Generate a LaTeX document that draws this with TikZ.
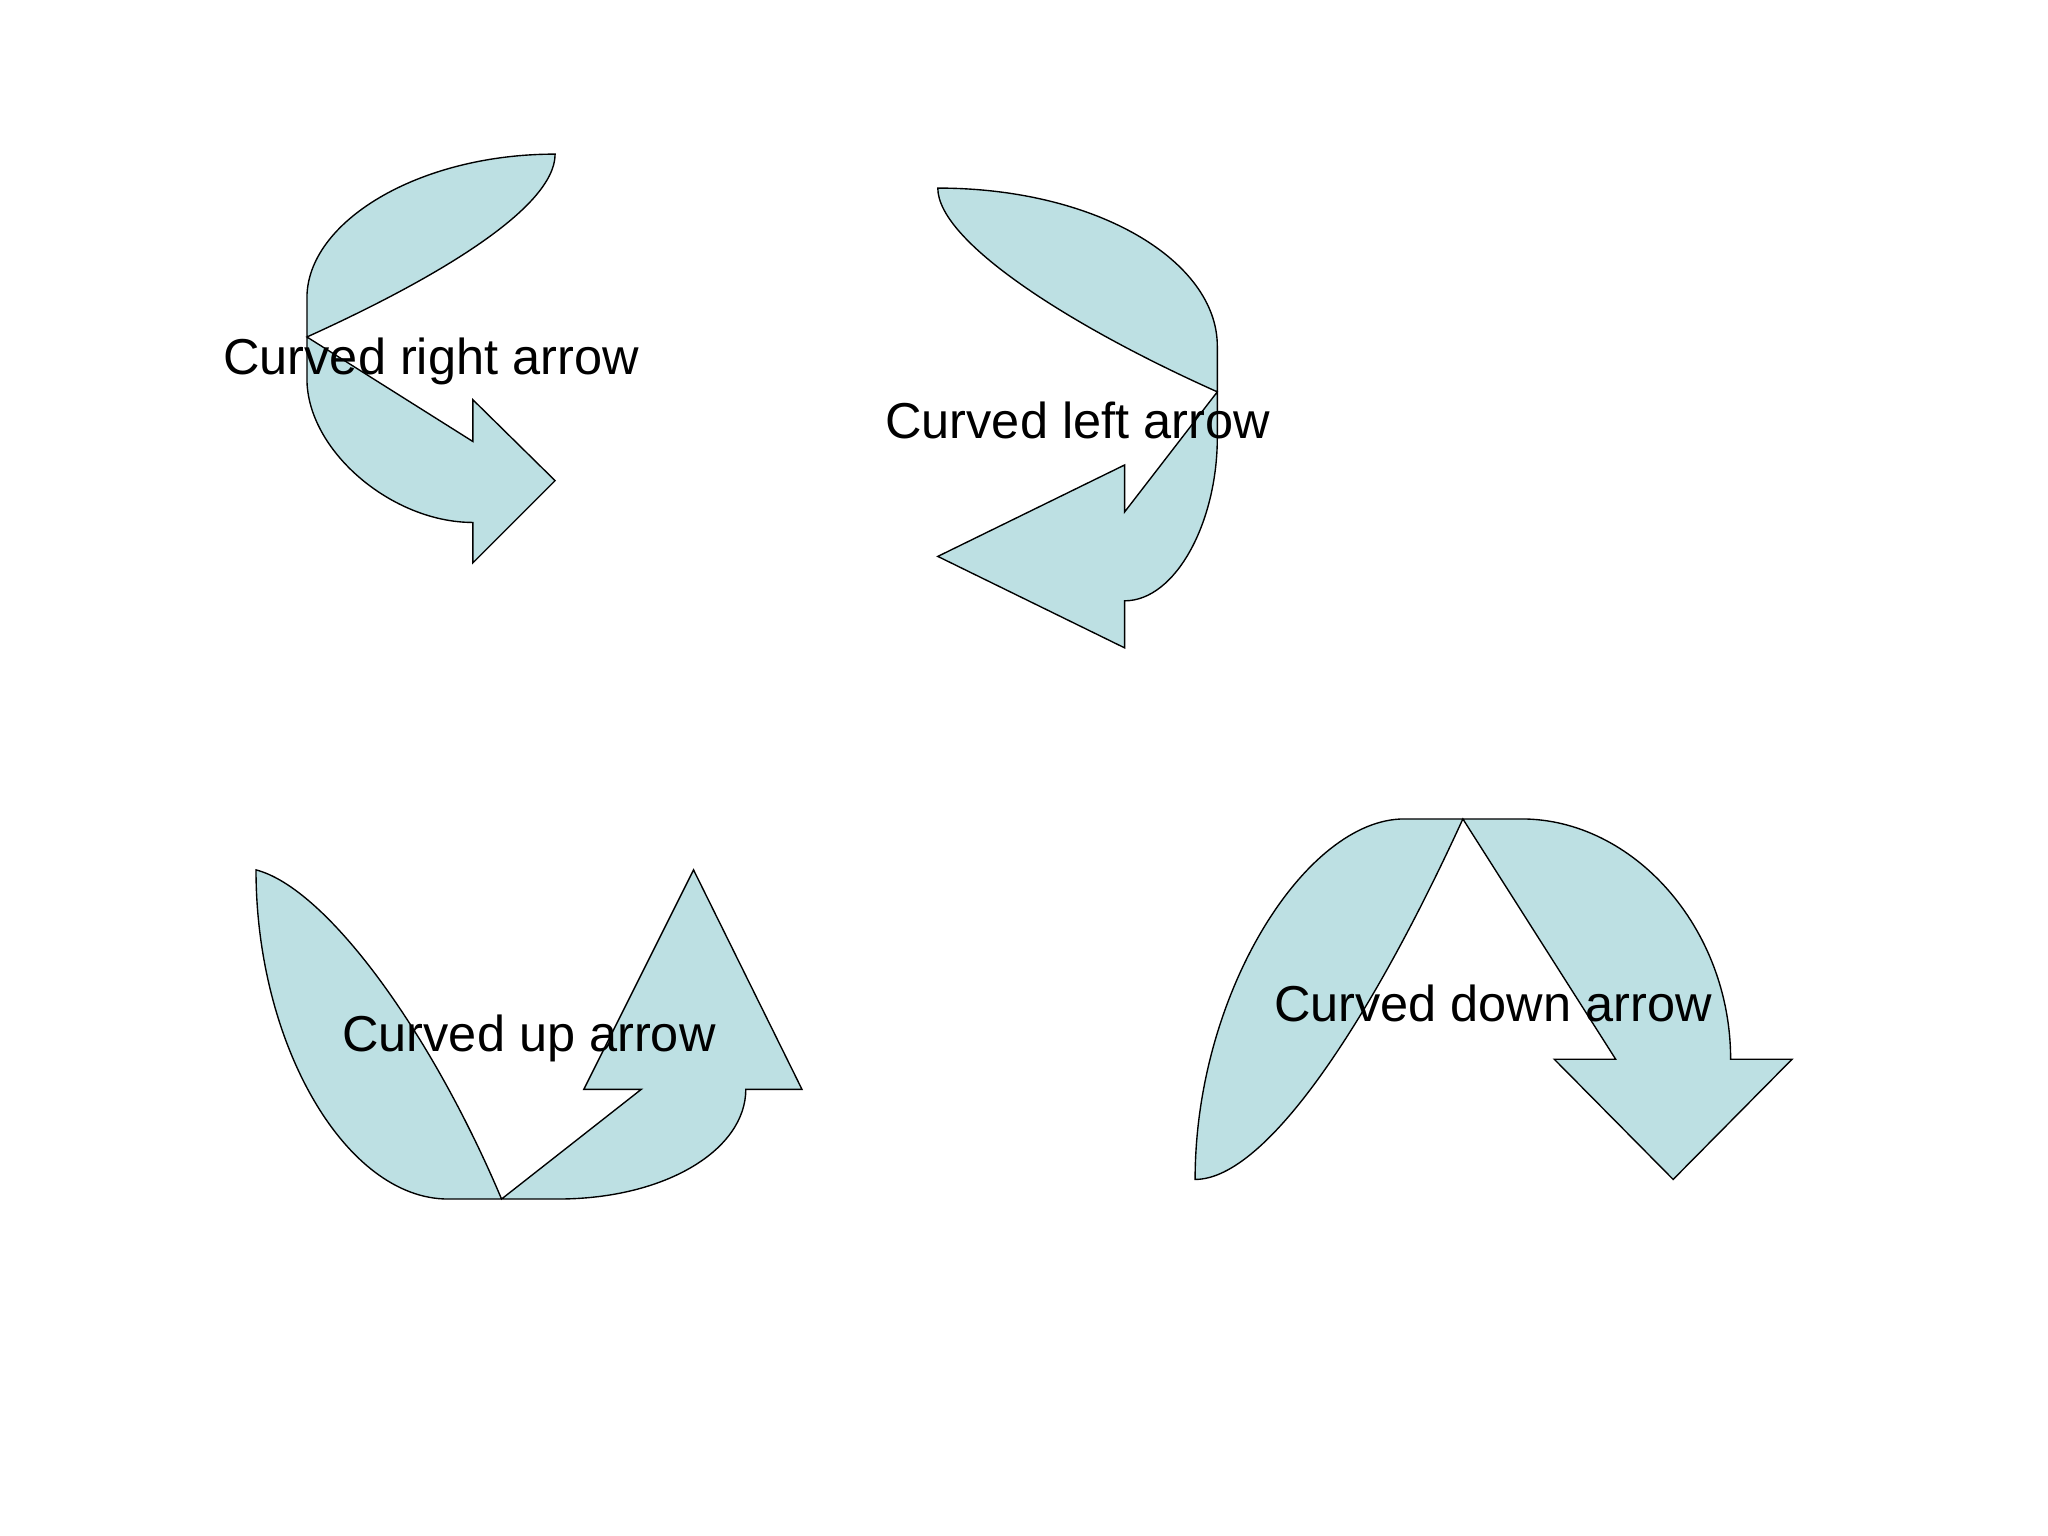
\documentclass[tikz,border=0pt]{standalone}
\usepackage{fontspec}
\setmainfont{Liberation Sans}
\begin{document}
\begin{tikzpicture}[x=0.02cm,y=-0.02cm,
  shp/.style={fill={rgb,255:red,189;green,224;blue,227},draw=black,line width=0.6pt,line join=miter},
  lbl/.style={font=\fontsize{22pt}{26pt}\selectfont,inner sep=0pt}]
\useasboundingbox (0,0) rectangle (1568,1176);
% curved right
\draw[shp] (425,118) .. controls (320,118) and (235,170) .. (235,228) -- (235,290)
  .. controls (235,345) and (300,400) .. (362,400) -- (362,431) -- (425,368) -- (362,306) -- (362,338)
  -- (235,258) .. controls (330,215) and (425,160) .. (425,118) -- cycle;
% curved left
\draw[shp] (718,144) .. controls (840,144) and (932,200) .. (932,265) -- (932,335)
  .. controls (932,400) and (900,460) .. (861,460) -- (861,496) -- (718,426) -- (861,356) -- (861,392)
  -- (932,300) .. controls (820,250) and (718,185) .. (718,144) -- cycle;
% curved up
\draw[shp] (196,666) .. controls (196,800) and (265,918) .. (343,918) -- (427,918)
  .. controls (510,918) and (571,880) .. (571,834) -- (614,834) -- (531,666) -- (447,834) -- (491,834)
  -- (384,918) .. controls (330,790) and (250,680) .. (196,666) -- cycle;
% curved down
\draw[shp] (915,903) .. controls (915,760) and (1000,627) .. (1075,627) -- (1165,627)
  .. controls (1250,627) and (1325,710) .. (1325,811) -- (1372,811) -- (1281,903) -- (1190,811) -- (1237,811)
  -- (1120,627) .. controls (1050,780) and (970,903) .. (915,903) -- cycle;
\node[lbl] (tr) at (330,277) {Curved right arrow};
\node[lbl] (tl) at (825,322) {Curved left arrow};
\node[lbl] (tu) at (405,795) {Curved up arrow};
\node[lbl] (td) at (1143,768) {Curved down arrow};
\end{tikzpicture}
\end{document}
